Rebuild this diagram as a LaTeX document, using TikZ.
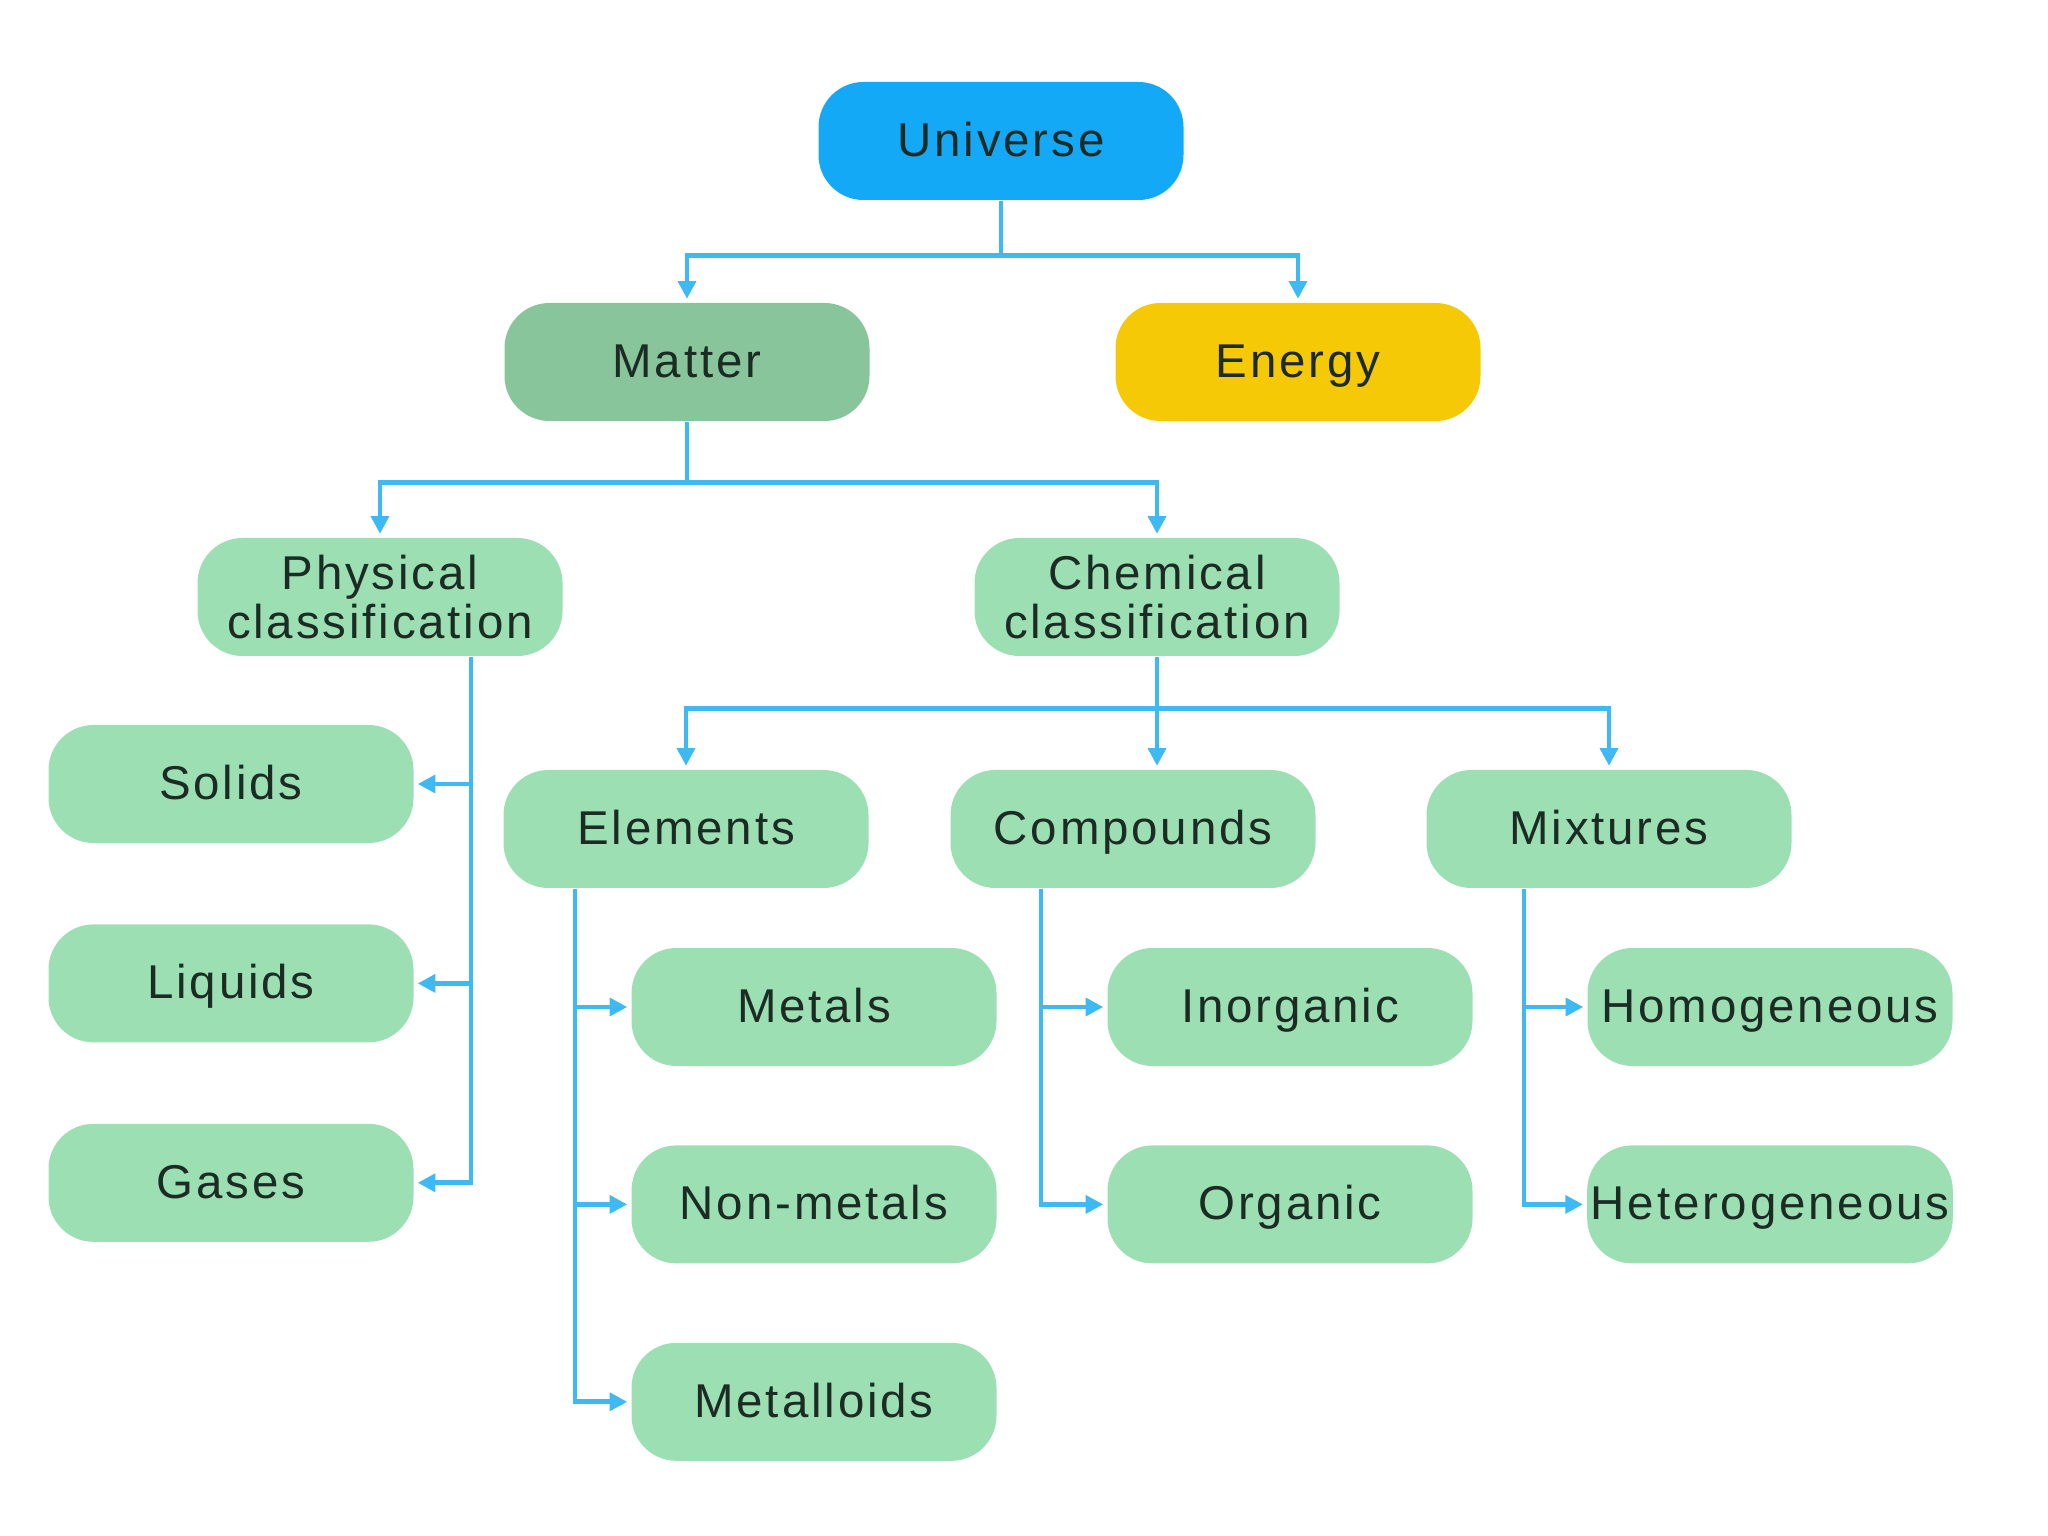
\documentclass[tikz,border=0pt]{standalone}
\usepackage{fontspec}
\setmainfont{Liberation Sans}[LetterSpace=6]
\usetikzlibrary{arrows.meta, positioning}
\definecolor{rootblue}{HTML}{13A9F6}
\definecolor{mattergreen}{HTML}{88C59B}
\definecolor{energyyellow}{HTML}{F5C905}
\definecolor{leafgreen}{HTML}{9CDFB3}
\definecolor{linkblue}{HTML}{3FB9F2}
\definecolor{inkdark}{HTML}{1C2B24}
\tikzset{
    base/.style={rectangle, rounded corners=0.45cm, align=center, text=inkdark, font=\fontsize{13.5}{14}\selectfont, minimum width=3.65cm, minimum height=1.18cm, inner xsep=1pt},
    oneline/.style={base, text height=2.2ex, text depth=0.53ex},
    rootbox/.style={oneline, fill=rootblue},
    matterbox/.style={oneline, fill=mattergreen},
    energybox/.style={oneline, fill=energyyellow},
    topic/.style={oneline, fill=leafgreen},
    topictwo/.style={base, fill=leafgreen},
    link/.style={draw=linkblue, line width=1.4pt},
    arrow/.style={link, -{Triangle[length=5pt, width=5pt]}, shorten >=1pt}
}

\begin{document}
\begin{tikzpicture}[node distance=0.78cm]
    \useasboundingbox (0,0) rectangle (20.48,-15.36);

    \node (universe) [rootbox] at (10.01,-1.41) {Universe};
    \node (matter) [matterbox] at (6.87,-3.62) {Matter};
    \node (energy) [energybox] at (12.98,-3.62) {Energy};

    \node (phys) [topictwo] at (3.80,-5.97) {Physical\\classification};
    \node (chem) [topictwo] at (11.57,-5.97) {Chemical\\classification};

    \node (solids) [topic] at (2.31,-7.84) {Solids};
    \node (liquids) [topic, below=0.8cm of solids] {Liquids};
    \node (gases) [topic, below=0.8cm of liquids] {Gases};

    \node (elem) [topic] at (6.86,-8.29) {Elements};
    \node (comp) [topic] at (11.33,-8.29) {Compounds};
    \node (mixt) [topic] at (16.09,-8.29) {Mixtures};

    \node (metals) [topic] at (8.14,-10.07) {Metals};
    \node (nonmetals) [topic, below=of metals] {Non-metals};
    \node (metalloids) [topic, below=of nonmetals] {Metalloids};

    \node (inorg) [topic] at (12.90,-10.07) {Inorganic};
    \node (org) [topic, below=of inorg] {Organic};

    \node (homog) [topic] at (17.70,-10.07) {Homogeneous};
    \node (heterog) [topic, below=of homog] {Heterogeneous};

    % universe
    \draw [link] (universe.south) -- ++(0,-0.55) coordinate (uj);
    \draw [arrow] (uj) -| (matter.north);
    \draw [arrow] (uj) -| (energy.north);

    % matter
    \draw [link] (matter.south) -- ++(0,-0.61) coordinate (mj);
    \draw [arrow] (mj) -| (phys.north);
    \draw [arrow] (mj) -| (chem.north);

    % physical
    \draw [arrow] ([xshift=0.91cm]phys.south) |- (solids.east);
    \draw [arrow] ([xshift=0.91cm]phys.south) |- (liquids.east);
    \draw [arrow] ([xshift=0.91cm]phys.south) |- (gases.east);

    % chemical
    \draw [link] (chem.south) -- ++(0,-0.52) coordinate (cj);
    \draw [arrow] (cj) -| (elem.north);
    \draw [arrow] (cj) -- (cj |- comp.north);
    \draw [arrow] (cj) -| (mixt.north);

    % elements, compounds, mixtures
    \draw [arrow] ([xshift=-1.11cm]elem.south) |- (metals.west);
    \draw [arrow] ([xshift=-1.11cm]elem.south) |- (nonmetals.west);
    \draw [arrow] ([xshift=-1.11cm]elem.south) |- (metalloids.west);
    \draw [arrow] ([xshift=-0.92cm]comp.south) |- (inorg.west);
    \draw [arrow] ([xshift=-0.92cm]comp.south) |- (org.west);
    \draw [arrow] ([xshift=-0.85cm]mixt.south) |- (homog.west);
    \draw [arrow] ([xshift=-0.85cm]mixt.south) |- (heterog.west);
\end{tikzpicture}
\end{document}
